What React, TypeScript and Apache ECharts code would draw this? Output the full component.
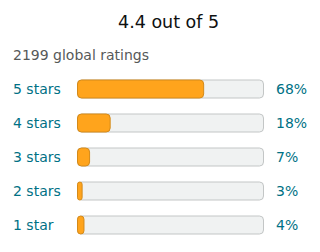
import React, { useEffect, useRef } from "react";
import * as echarts from "echarts";

const categories = ["5 stars", "4 stars", "3 stars", "2 stars", "1 star"];
const percents = [68, 18, 7, 3, 4];
const trackValues = [100, 100, 100, 100, 100];
const titleText = "4.4 out of 5";
const subtitleText = "2199 global ratings";

export default function App() {
  const ref = useRef<HTMLDivElement>(null);
  useEffect(() => {
    if (!ref.current) return;
    const chart = echarts.init(ref.current, null, { renderer: "svg" });
    const font = "DejaVu Sans";
    chart.setOption({
      animation: false,
      textStyle: { fontFamily: font },
      title: [
        {
          text: titleText,
          left: 118,
          top: 13,
          padding: 0,
          textStyle: { fontFamily: font, fontSize: 17.5, fontWeight: "normal", color: "#0f1111" },
        },
        {
          text: subtitleText,
          left: 13,
          top: 48,
          padding: 0,
          textStyle: { fontFamily: font, fontSize: 14, fontWeight: "normal", color: "#565959" },
        },
      ],
      grid: { left: 77, right: 56, top: 72, height: 170, containLabel: false },
      xAxis: { type: "value", min: 0, max: 100, show: false },
      yAxis: {
        type: "category",
        data: categories,
        inverse: true,
        axisLine: { show: false },
        axisTick: { show: false },
        axisLabel: {
          align: "left",
          margin: 64,
          fontFamily: font,
          fontSize: 14,
          color: "#007185",
        },
      },
      series: [
        {
          type: "bar",
          data: trackValues,
          barWidth: 19,
          barGap: "-100%",
          z: 1,
          silent: true,
          itemStyle: { color: "#f0f2f2", borderColor: "#c3c6c6", borderWidth: 1, borderRadius: 4 },
          label: {
            show: true,
            position: "right",
            distance: 12,
            formatter: (p: any) => percents[p.dataIndex] + "%",
            fontFamily: font,
            fontSize: 14,
            color: "#007185",
          },
        },
        {
          type: "bar",
          data: percents,
          barWidth: 19,
          z: 2,
          itemStyle: { color: "#ffa41c", borderColor: "#d48a1a", borderWidth: 1, borderRadius: 4 },
        },
      ],
    });
    return () => chart.dispose();
  }, []);
  return <div ref={ref} style={{ width: 320, height: 252, position: "absolute", left: 0, top: 0 }} />;
}
